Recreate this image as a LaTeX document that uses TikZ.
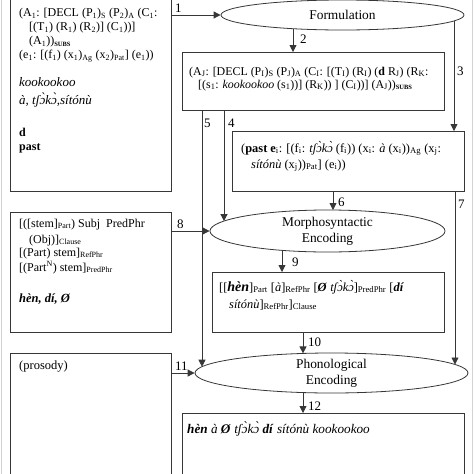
\documentclass[tikz,border=0pt]{standalone}
\usepackage{fontspec}
\setmainfont{Liberation Serif}
\usetikzlibrary{arrows.meta,shapes.geometric}
\definecolor{linec}{RGB}{55,55,55}
\newcommand\sbs[1]{\textsubscript{#1}}
\newcommand\sps[1]{\textsuperscript{#1}}
\newcommand\subsb{\textsubscript{\textbf{\fontsize{6.5}{8}\selectfont SUBS}}}
\newcommand\ipatxt{tʃɔ̀kɔ̀}
\begin{document}
\begin{tikzpicture}[x=1pt,y=-1pt,
  box/.style={draw=linec, line width=0.8pt, inner sep=0pt},
  arr/.style={draw=linec, line width=0.8pt, -{Triangle[length=7pt,width=7pt]}},
  txt/.style={anchor=base west, inner sep=0pt, font=\fontsize{12}{14}\selectfont},
  lbl/.style={anchor=base west, inner sep=0pt, font=\fontsize{13}{14}\selectfont},
  oval/.style={ellipse, draw=linec, line width=0.8pt, inner sep=0pt},
  otxt/.style={align=center, inner sep=0pt, font=\fontsize{13.4}{16}\selectfont}]
\useasboundingbox (0,0) rectangle (474,474);
\fill[white] (0,0) rectangle (474,474);
\draw[gray!35, line width=0.8pt] (1.5,0) -- (1.5,474);
\draw[gray!35, line width=0.8pt] (472.5,0) -- (472.5,474);

% rectangles
\node[box, anchor=north west, minimum width=161pt, minimum height=193pt] (L1) at (10,-2) {};
\node[box, anchor=north west, minimum width=161pt, minimum height=120pt] (L2) at (10,212) {};
\node[box, anchor=north west, minimum width=161pt, minimum height=130pt] (L3) at (10,353) {};
\node[box, anchor=north west, minimum width=262pt, minimum height=58pt] (BJ) at (182,52) {};
\node[box, anchor=north west, minimum width=232pt, minimum height=60pt] (B3) at (232,131) {};
\node[box, anchor=north west, minimum width=232pt, minimum height=60pt] (B4) at (212,272) {};
\node[box, anchor=north west, minimum width=282pt, minimum height=70pt] (B5) at (182,413) {};

% ellipses
\node[oval, minimum width=243pt, minimum height=30pt] (form) at (342.5,15) {};
\node[otxt] (formt) at (form.center) {Formulation};
\node[oval, minimum width=235pt, minimum height=42pt] (morph) at (327.5,231) {};
\node[otxt] (morpht) at (morph.center) {Morphosyntactic\\Encoding};
\node[oval, minimum width=273pt, minimum height=40pt] (phon) at (331.5,373) {};
\node[otxt] (phont) at (phon.center) {Phonological\\Encoding};

% connector end points on ellipses
\coordinate (c2) at (293,28.7);
\coordinate (c3) at (454,21);
\coordinate (c4) at (224,221.1);
\coordinate (c5) at (202,366.7);
\coordinate (c6) at (333,210);
\coordinate (c7) at (455,364.5);
\coordinate (c9) at (282,250.4);
\coordinate (c10) at (303,353.4);
\coordinate (c12) at (303,392.6);

% connectors
\draw[arr] (L1.east |- form.west) -- (form.west);
\draw[arr] (c2) -- (BJ.north -| c2);
\draw[arr] (c3) -- (B3.north -| c3);
\draw[arr] (BJ.south -| c4) -- (c4);
\draw[arr] (BJ.south -| c5) -- (c5);
\draw[arr] (B3.south -| c6) -- (c6);
\draw[arr] (B3.south -| c7) -- (c7);
\draw[arr] (L2.east |- morph.west) -- (morph.west);
\draw[arr] (c9) -- (B4.north -| c9);
\draw[arr] (B4.south -| c10) -- (c10);
\draw[arr] (L3.east |- phon.west) -- (phon.west);
\draw[arr] (c12) -- (B5.north -| c12);

% connector labels
\node[lbl] (n1) at (175,12) {1};
\node[lbl] (n2) at (300,43) {2};
\node[lbl] (n3) at (457,75) {3};
\node[lbl] (n4) at (228,127) {4};
\node[lbl] (n5) at (204,127) {5};
\node[lbl] (n6) at (338,206) {6};
\node[lbl] (n7) at (458,208) {7};
\node[lbl] (n8) at (177,228) {8};
\node[lbl] (n9) at (292,266) {9};
\node[lbl] (n10) at (308,346) {10};
\node[lbl] (n11) at (175,370) {11};
\node[lbl] (n12) at (308,410) {12};

% left box 1
\node[txt] (l1a) at (19,16.5) {(A\sbs1: [DECL (P\sbs1)\sbs{S} (P\sbs2)\sbs{A} (C\sbs1:};
\node[txt] (l1b) at (29,30.5) {[(T\sbs1) (R\sbs1) (R\sbs2)] (C\sbs1))]};
\node[txt] (l1c) at (29,44.5) {(A\sbs1))\subsb};
\node[txt] (l1d) at (19,58.5) {(e\sbs1: [(f\sbs1) (x\sbs1)\sbs{Ag} (x\sbs2)\sbs{Pat}] (e\sbs1))};
\node[txt, font=\fontsize{13}{14}\selectfont] (l1e) at (19,86.5) {\textit{kookookoo}};
\node[txt, font=\fontsize{13}{14}\selectfont] (l1f) at (19,104) {\textit{à, \ipatxt,sítónù}};
\node[txt] (l1g) at (19,136) {\textbf{d}};
\node[txt] (l1h) at (19,150) {\textbf{past}};

% box J
\node[txt, font=\fontsize{11.9}{14}\selectfont] (bja) at (189,75) {(A\sbs{J}: [DECL (P\sbs{I})\sbs{S} (P\sbs{J})\sbs{A} (C\sbs{I}: [(T\sbs{I}) (R\sbs{I}) (\textbf{d} R\sbs{J}) (R\sbs{K}:};
\node[txt, font=\fontsize{11.9}{14}\selectfont] (bjb) at (198,88) {[(s\sbs1: \textit{kookookoo} (s\sbs1))] (R\sbs{K})) ] (C\sbs{I}))] (A\sbs{J}))\subsb};

% box 3
\node[txt, font=\fontsize{12.4}{14}\selectfont] (b3a) at (241,152) {(\textbf{past e}\sbs{i}: [(f\sbs{i}: \textit{\ipatxt} (f\sbs{i})) (x\sbs{i}: \textit{à} (x\sbs{i}))\sbs{Ag} (x\sbs{j}:};
\node[txt, font=\fontsize{12.4}{14}\selectfont] (b3b) at (251,168) {\textit{sítónù} (x\sbs{j}))\sbs{Pat}] (e\sbs{i}))};

% left box 2
\node[txt] (l2a) at (19,227) {[([stem]\sbs{Part}) Subj\ \ PredPhr};
\node[txt] (l2b) at (29,243) {(Obj)]\sbs{Clause}};
\node[txt] (l2c) at (19,256) {[(Part) stem]\sbs{RefPhr}};
\node[txt] (l2d) at (19,271) {[(Part\sps{N}) stem]\sbs{PredPhr}};
\node[txt, font=\fontsize{12.5}{14}\selectfont] (l2e) at (19,302) {\textbf{\textit{hèn, dí, Ø}}};

% box 4
\node[txt, font=\fontsize{12.4}{14}\selectfont] (b4a) at (219,291) {[[\textbf{\textit{\fontsize{14}{14}\selectfont hèn}}]\sbs{Part} [\textit{à}]\sbs{RefPhr} [\textbf{\textit{Ø}} \textit{\ipatxt}]\sbs{PredPhr} [\textbf{\textit{dí}}};
\node[txt, font=\fontsize{12.4}{14}\selectfont] (b4b) at (229,308) {\textit{sítónù}]\sbs{RefPhr}]\sbs{Clause}};

% left box 3
\node[txt, font=\fontsize{12.5}{14}\selectfont] (l3a) at (19,369) {(prosody)};

% box 5
\node[txt, font=\fontsize{13.2}{14}\selectfont] (b5a) at (187,433) {\textbf{\textit{hèn}} \textit{à} \textbf{\textit{Ø}} \textit{\ipatxt} \textbf{\textit{dí}} \textit{sítónù kookookoo}};
\end{tikzpicture}
\end{document}
